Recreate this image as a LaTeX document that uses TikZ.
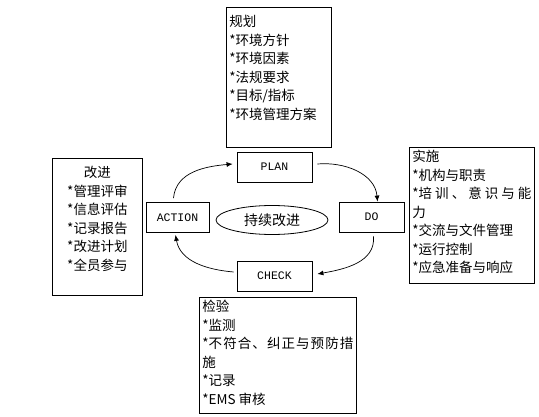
\documentclass[tikz,border=0pt]{standalone}
\usepackage{fontspec}
\setmainfont{Noto Sans CJK SC}
\newfontfamily\codefont{Liberation Mono}
\usetikzlibrary{shapes.geometric, arrows.meta}
\tikzset{
  infobox/.style={draw=black, line width=0.8pt, inner sep=3pt, anchor=north west,
                  font=\fontsize{13.5}{18.5}\selectfont},
  stagebox/.style={draw=black, line width=0.8pt, inner sep=0pt, minimum width=#1,
                   minimum height=30pt, font=\codefont\fontsize{11.5}{12}\selectfont},
  stagebox/.default=75pt,
  loopell/.style={ellipse, draw=black, line width=0.8pt, inner sep=0pt, minimum width=112pt,
                  minimum height=29pt, font=\fontsize{14}{14}\selectfont},
  turn/.style={-{Latex[length=6pt, width=5pt]}, line width=0.7pt},
}
\newcommand{\fillline}[1]{\makebox[\linewidth][s]{#1}}

\begin{document}
\begin{tikzpicture}[x=1pt, y=-1pt]
  \fill[white] (0,0) rectangle (539,417);
  \useasboundingbox (0,0) rectangle (539,417);

  \node[infobox] (planbox) at (226,7)
    {\parbox[t][134pt][t]{99pt}{\raggedright\vspace*{5pt}规划\\{}*环境方针\\{}*环境因素\\{}*法规要求\\{}*目标/指标\\{}*环境管理方案}};
  \node[infobox] (dobox) at (409,147)
    {\parbox[t][130pt][t]{119pt}{\raggedright 实施\\{}*机构与职责\\{}\fillline{*培\hfil 训\hfil 、\hfil 意\hfil 识\hfil 与\hfil 能}\\{}力\\{}*交流与文件管理\\{}*运行控制\\{}*应急准备与响应}};
  \node[infobox] (checkbox) at (199,297)
    {\parbox[t][110pt][t]{151pt}{\raggedright 检验\\{}*监测\\{}\fillline{*不\hfil 符\hfil 合\hfil 、\hfil 纠\hfil 正\hfil 与\hfil 预\hfil 防\hfil 措}\\{}施\\{}*记录\\{}*EMS 审核}};
  \node[infobox] (actbox) at (52,158)
    {\parbox[t][131pt][t]{84pt}{\centering\vspace*{5pt}改进\\{}*管理评审\\{}*信息评估\\{}*记录报告\\{}*改进计划\\{}*全员参与}};

  \foreach \nm/\x/\y/\w/\txt in {plan/274.5/167/75/PLAN, do/371.5/217/65/DO,
                                 check/274.5/276/75/CHECK, action/177.5/217.5/63/ACTION}{
    \node[stagebox=\w pt] (\nm) at (\x,\y) {\txt};
  }
  \node[loopell] (core) at (272,220) {持续改进};

  \draw[turn] ([xshift=5pt,yshift=3pt]plan.east) to[out=5, in=95] ([xshift=6pt]do.north);
  \draw[turn] ([xshift=2pt,yshift=-4pt]do.south) to[out=-85, in=10] ([xshift=5pt,yshift=2pt]check.east);
  \draw[turn] ([xshift=-3pt,yshift=4pt]check.west) to[out=175, in=-80] ([xshift=-2pt,yshift=-2pt]action.south);
  \draw[turn] ([xshift=-4pt,yshift=4pt]action.north) to[out=85, in=185] ([xshift=-4pt,yshift=3pt]plan.west);
\end{tikzpicture}
\end{document}
